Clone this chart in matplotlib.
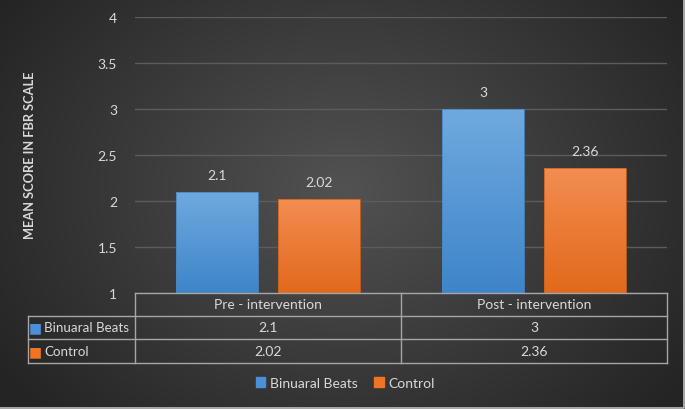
import numpy as np
import matplotlib
matplotlib.use("Agg")
import matplotlib.pyplot as plt
from matplotlib.transforms import blended_transform_factory
from matplotlib.patches import Rectangle

categories = ["Pre - intervention", "Post - intervention"]
series_names = ["Binuaral Beats", "Control"]
binaural = [2.1, 3.0]
control = [2.02, 2.36]
value_labels = [["2.1", "3"], ["2.02", "2.36"]]
yticks = [1, 1.5, 2, 2.5, 3, 3.5, 4]
ytick_labels = ["1", "1.5", "2", "2.5", "3", "3.5", "4"]
ylabel = "MEAN SCORE IN FBR SCALE"

plt.rcParams['font.family'] = ['Lato', 'DejaVu Sans']
TXT = '#d9d9d9'

W, H = 685, 410
fig = plt.figure(figsize=(W / 100, H / 100), dpi=100)

# radial gradient background
bg = fig.add_axes([0, 0, 1, 1], zorder=-10)
yy, xx = np.mgrid[0:H, 0:W]
r = np.sqrt(((xx - 345) / 420.0) ** 2 + ((yy - 190) / 330.0) ** 2)
r = np.clip(r, 0, 1)
c0 = np.array([0x52, 0x52, 0x52]) / 255
c1 = np.array([0x24, 0x24, 0x24]) / 255
img = c0[None, None, :] * (1 - r[..., None]) + c1[None, None, :] * r[..., None]
bg.imshow(img, aspect='auto', extent=[0, W, H, 0])
bg.set_xlim(0, W); bg.set_ylim(H, 0)
bg.axis('off')
bg.plot([0, W - 0.5, W - 0.5], [H - 1, H - 1, 0], color='#bfbfbf', lw=1.2)

ax = fig.add_axes([135 / W, 1 - 294 / H, (667 - 135) / W, (294 - 18) / H])
ax.patch.set_alpha(0)
ax.set_xlim(-0.5, 1.5)
ax.set_ylim(1, 4)
for s in ax.spines.values():
    s.set_visible(False)
ax.set_yticks(yticks)
ax.set_yticklabels(ytick_labels, color=TXT, fontsize=10)
ax.tick_params(axis='y', length=0, pad=13)
ax.set_xticks([])
ax.grid(axis='y', color='#5c5c5c', lw=1)
ax.set_axisbelow(True)
ax.set_ylabel(ylabel, color=TXT, fontsize=9.2, fontweight='bold')
ax.yaxis.set_label_coords(-(135 - 30) / 532.0, (294 - 155) / 276.0)
ax.yaxis.label.set_va('center')

x = np.arange(len(categories))
offset = 0.1917
width = 0.308
tops = [('#70a9df', '#3d85c9'), ('#f38d52', '#e2691a')]
edges = ['#4a86c0', '#c8631e']
for i, (vals, (ct, cb), ec) in enumerate(zip([binaural, control], tops, edges)):
    bars = ax.bar(x + (i * 2 - 1) * offset, vals, width,
                  color='none', edgecolor=ec, lw=0.6, zorder=3)
    for b, lab in zip(bars, value_labels[i]):
        x0, y0 = b.get_x(), max(b.get_y(), 1)
        x1, y1 = x0 + b.get_width(), b.get_y() + b.get_height()
        grad = np.linspace(0, 1, 256)[:, None, None]
        cimg = np.array(matplotlib.colors.to_rgb(ct))[None, None, :] * (1 - grad) + \
            np.array(matplotlib.colors.to_rgb(cb))[None, None, :] * grad
        im = ax.imshow(cimg, extent=[x0, x1, y0, y1], aspect='auto', zorder=2, origin='upper')
        im.set_clip_path(b)
        ax.annotate(lab, (b.get_x() + b.get_width() / 2, y1), xytext=(0, 8),
                    textcoords='offset points', ha='center', va='bottom',
                    color=TXT, fontsize=10)
ax.set_xlim(-0.5, 1.5)
ax.set_ylim(1, 4)

# data table below
tr = blended_transform_factory(ax.transData, ax.transAxes)
axh = 294 - 18
rows_px = [294, 317, 340, 364]
ry = [(294 - p) / axh for p in rows_px]
lx = -0.5 - (135 - 28) / 266.0
lc = '#a6a6a6'
kw = dict(color=lc, lw=1, transform=tr, clip_on=False)
ax.plot([-0.5, 1.5], [ry[0], ry[0]], **kw)
for yv in ry[1:]:
    ax.plot([lx, 1.5], [yv, yv], **kw)
for xv in [-0.5, 0.5, 1.5]:
    ax.plot([xv, xv], [ry[0], ry[3]], **kw)
ax.plot([lx, lx], [ry[1], ry[3]], **kw)

for j, cat in enumerate(categories):
    ax.text(x[j], (ry[0] + ry[1]) / 2, cat, transform=tr, ha='center', va='center',
            color=TXT, fontsize=10)
series_cols = ['#4a90d9', '#ef7424']
for i, (name, vals) in enumerate(zip(series_names, [binaural, control])):
    yc = (ry[i + 1] + ry[i + 2]) / 2
    ax.text(lx + 0.028, yc, '\u25A0', transform=tr, ha='center', va='center',
            color=series_cols[i], fontsize=10, family='DejaVu Sans')
    ax.text(lx + 0.060, yc, name, transform=tr, ha='left', va='center',
            color=TXT, fontsize=9.6)
    for j in range(len(categories)):
        ax.text(x[j], yc, value_labels[i][j], transform=tr, ha='center', va='center',
                color=TXT, fontsize=10)

# legend
handles = [Rectangle((0, 0), 1, 1, color=c) for c in series_cols]
fig.legend(handles, series_names, loc='center', bbox_to_anchor=(345 / W, 1 - 384 / H),
           ncol=2, frameon=False, fontsize=10, labelcolor=TXT, handlelength=0.7,
           handleheight=0.7, handletextpad=0.3, columnspacing=1.2)

fig.savefig('out.png', dpi=100)
